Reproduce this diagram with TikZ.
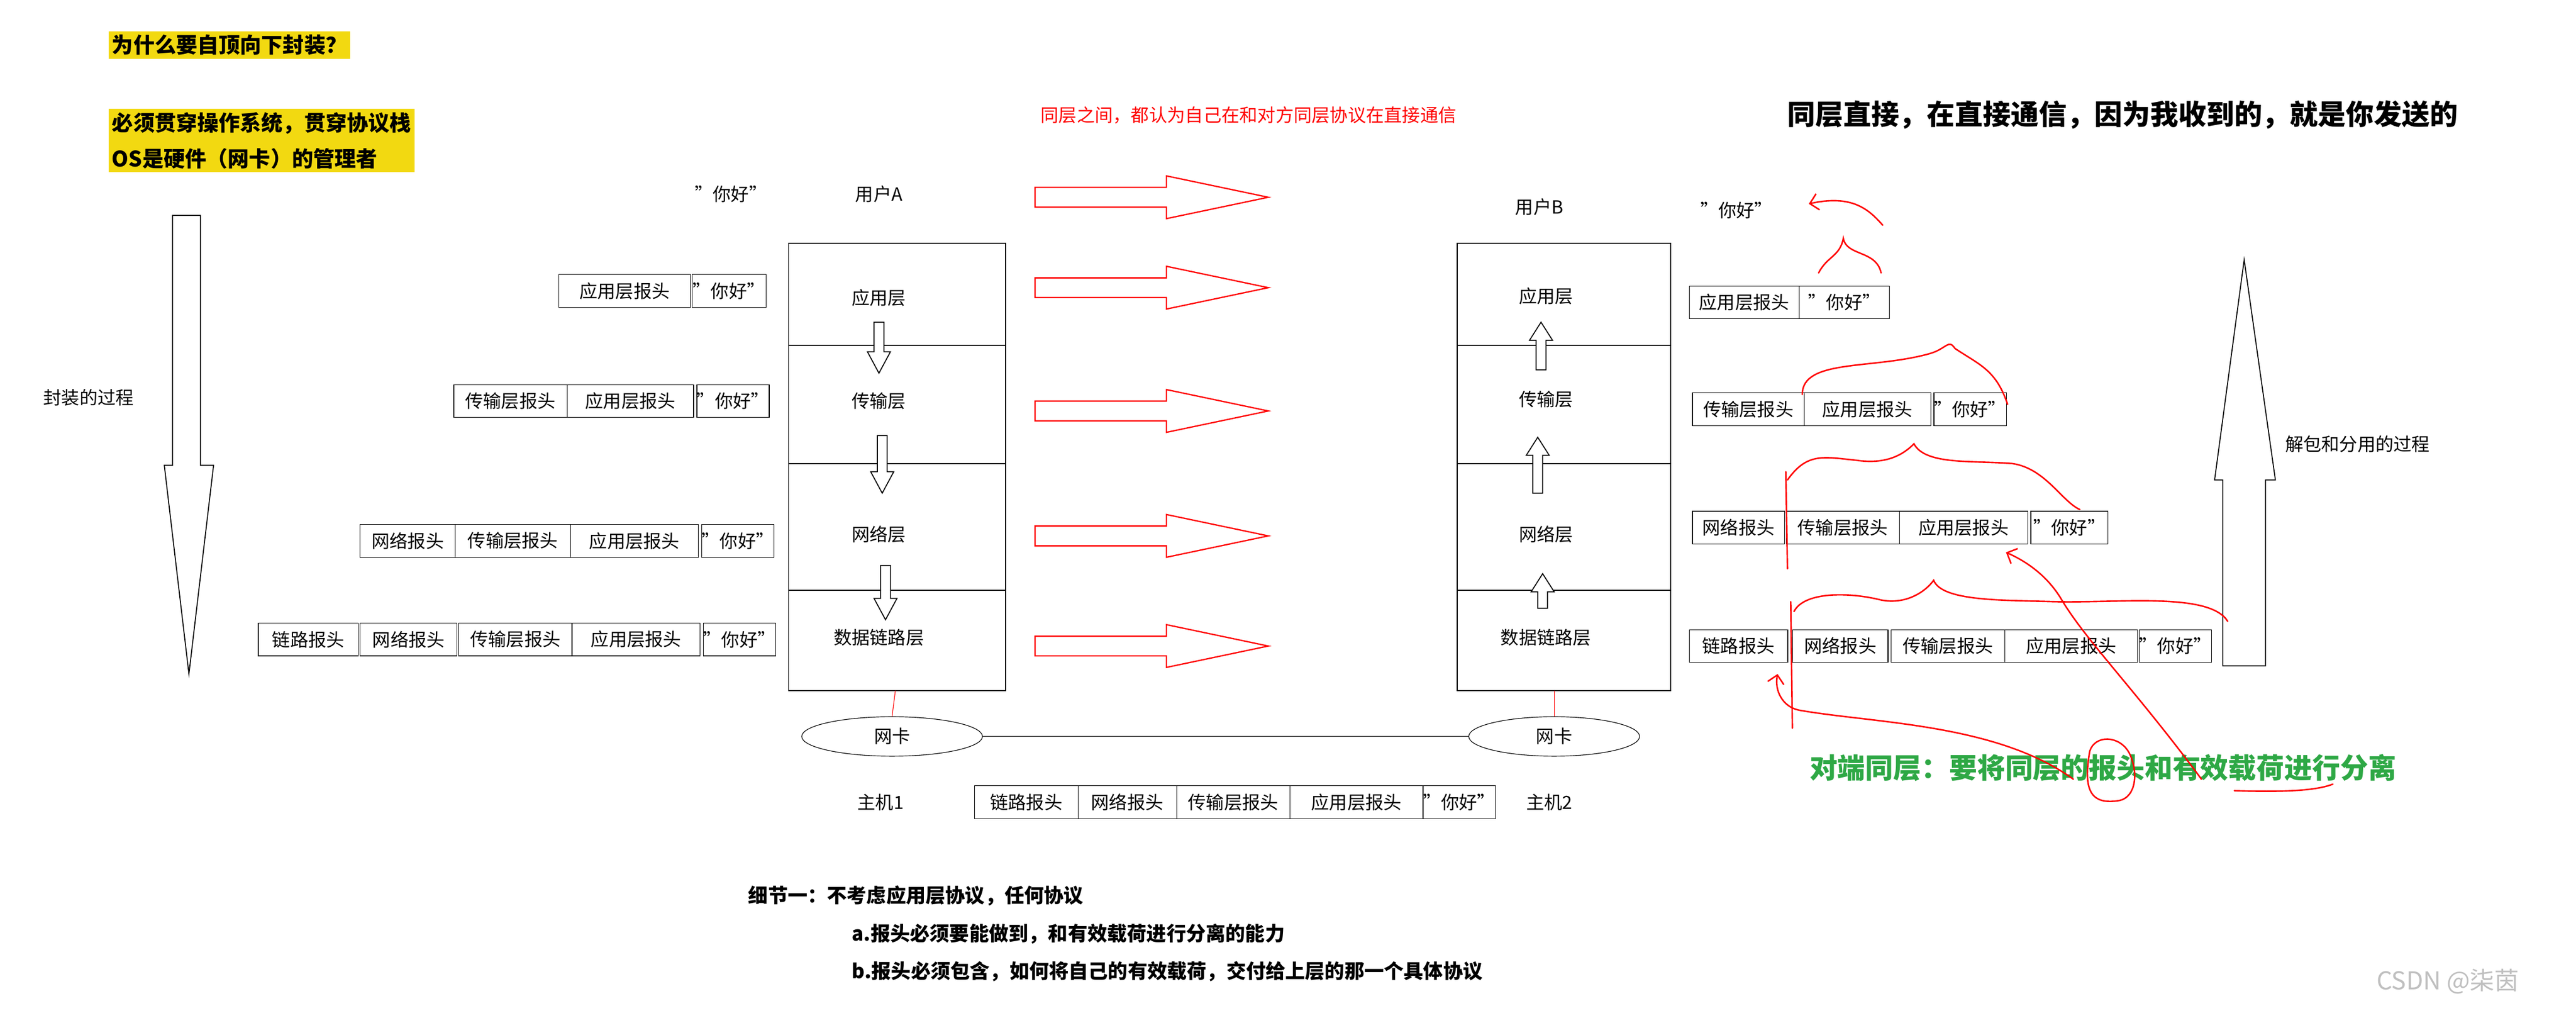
\documentclass[tikz,border=0pt]{standalone}
\usepackage{fontspec}
\setmainfont{Noto Sans CJK SC}
\usetikzlibrary{arrows.meta,shapes.geometric}
\definecolor{hl}{HTML}{F2D911}
\definecolor{gr}{HTML}{2EA845}
\tikzset{
  f/.style={font=\fontsize{11}{13}\selectfont},
  cell/.style={draw,f,minimum height=20pt,inner sep=0pt,anchor=west},
  lay/.style={f},
  rd/.style={red,line width=0.9pt,line cap=round},
  hollow/.style={draw,fill=white,line width=0.6pt},
  rhollow/.style={draw=red,line width=0.8pt},
}
\newcommand{\pk}[4]{\node[cell,minimum width=#3pt] (#1) at (#2) {#4};}
\begin{document}
\begin{tikzpicture}[x=1pt,y=-1pt]
\useasboundingbox (0,0) rectangle (1568,619);
% yellow notes
\node[fill=hl,anchor=north west,inner sep=2pt,font=\bfseries\fontsize{13}{15}\selectfont] (q) at (66,19) {为什么要自顶向下封装？};
\node[fill=hl,anchor=north west,inner sep=2pt,align=left,font=\bfseries\fontsize{13}{22}\selectfont] (n) at (66,66) {必须贯穿操作系统，贯穿协议栈\\OS是硬件（网卡）的管理者};
% big down arrow
\draw[hollow] (105,131) -- (122,131) -- (122,283) -- (130,283) -- (115,410) -- (100,283) -- (105,283) -- cycle;
\node[f] (enc) at (54,242) {封装的过程};
% top texts
\node[red,font=\fontsize{11}{13}\selectfont] (t1) at (760,70) {同层之间，都认为自己在和对方同层协议在直接通信};
\node[font=\bfseries\fontsize{17}{20}\selectfont] (t2) at (1292,70) {同层直接，在直接通信，因为我收到的，就是你发送的};
% stacks
\node[f] (ha) at (445,118) {"你好"};
\node[f] (ua) at (535,118) {用户A};
\draw[line width=0.6pt] (480,148) rectangle (612,420);
\foreach \y in {210,282,359} \draw[line width=0.6pt] (480,\y) -- (612,\y);
\node[lay] (a1) at (535,181) {应用层};
\node[lay] (a2) at (535,244) {传输层};
\node[lay] (a3) at (535,325) {网络层};
\node[lay] (a4) at (535,388) {数据链路层};
\foreach \x/\a/\b in {535/196/227,537/265/300,539/344/377}
  \draw[hollow] (\x-3,\a) -- (\x+3,\a) -- (\x+3,\b-13) -- (\x+7,\b-13) -- (\x,\b) -- (\x-7,\b-13) -- (\x-3,\b-13) -- cycle;
\node[f] (ub) at (937,126) {用户B};
\draw[line width=0.6pt] (887,148) rectangle (1017,420);
\foreach \y in {210,282,359} \draw[line width=0.6pt] (887,\y) -- (1017,\y);
\node[lay] (b1) at (941,180) {应用层};
\node[lay] (b2) at (941,243) {传输层};
\node[lay] (b3) at (941,325) {网络层};
\node[lay] (b4) at (941,388) {数据链路层};
\foreach \x/\a/\b in {938/196/225,936/266/300,939/349/370}
  \draw[hollow] (\x-3,\b) -- (\x+3,\b) -- (\x+3,\a+11) -- (\x+7,\a+11) -- (\x,\a) -- (\x-7,\a+11) -- (\x-3,\a+11) -- cycle;
% NICs
\node[draw,ellipse,minimum width=110pt,minimum height=24pt,f] (na) at (543,448) {网卡};
\node[draw,ellipse,minimum width=104pt,minimum height=24pt,f] (nb) at (946,448) {网卡};
\draw (na) -- (nb);
\draw[red] (545,420) -- (na.north);
\draw[red] (946,420) -- (nb.north);
\node[f] (h1) at (536,488) {主机1};
\node[f] (h2) at (943,488) {主机2};
% red hollow arrows
\foreach \y in {120,175,250,326,393}
  \draw[rhollow] (630,\y-6) -- (710,\y-6) -- (710,\y-13) -- (772,\y) -- (710,\y+13) -- (710,\y+6) -- (630,\y+6) -- cycle;
% left packets
\pk{l11}{340,177}{80}{应用层报头}\pk{l12}{421,177}{45}{"你好"}
\pk{l21}{276,244}{69}{传输层报头}\pk{l22}{345,244}{77}{应用层报头}\pk{l23}{424,244}{44}{"你好"}
\pk{l31}{219,329}{58}{网络报头}\pk{l32}{277,329}{70}{传输层报头}\pk{l33}{347,329}{78}{应用层报头}\pk{l34}{427,329}{43}{"你好"}
\pk{l41}{157,389}{61}{链路报头}\pk{l42}{219,389}{59}{网络报头}\pk{l43}{279,389}{69}{传输层报头}\pk{l44}{348,389}{78}{应用层报头}\pk{l45}{428,389}{44}{"你好"}
% bottom packet
\pk{m1}{593,488}{63}{链路报头}\pk{m2}{656,488}{60}{网络报头}\pk{m3}{716,488}{69}{传输层报头}\pk{m4}{785,488}{81}{应用层报头}\pk{m5}{866,488}{42}{"你好"}
% right packets
\node[f] (hb) at (1057,128) {"你好"};
\pk{r11}{1028,184}{67}{应用层报头}\pk{r12}{1095,184}{55}{"你好"}
\pk{r21}{1030,249}{68}{传输层报头}\pk{r22}{1098,249}{77}{应用层报头}\pk{r23}{1177,249}{44}{"你好"}
\pk{r31}{1030,321}{56}{网络报头}\pk{r32}{1087,321}{69}{传输层报头}\pk{r33}{1156,321}{78}{应用层报头}\pk{r34}{1236,321}{47}{"你好"}
\pk{r41}{1028,393}{60}{链路报头}\pk{r42}{1091,393}{58}{网络报头}\pk{r43}{1151,393}{69}{传输层报头}\pk{r44}{1220,393}{81}{应用层报头}\pk{r45}{1302,393}{41}{"你好"}
% big up arrow
\draw[hollow] (1353,405) -- (1379,405) -- (1379,292) -- (1385,292) -- (1366,158) -- (1348,292) -- (1353,292) -- cycle;
\node[f] (dec) at (1435,270) {解包和分用的过程};
% green note
\node[gr,font=\bfseries\fontsize{17}{20}\selectfont] (g) at (1280,467) {对端同层：要将同层的报头和有效载荷进行分离};
% red scribbles
\draw[rd,-{Straight Barb[length=5pt]}] (1146,137) .. controls (1138,128) and (1128,118) .. (1101,124);
\draw[rd] (1107,166) .. controls (1112,156) and (1120,156) .. (1122,145) .. controls (1124,156) and (1142,152) .. (1145,166);
\draw[rd] (1097,240) .. controls (1097,218) and (1140,225) .. (1175,215) .. controls (1185,212) and (1186,206) .. (1190,212) .. controls (1205,222) and (1215,225) .. (1222,246);
\draw[rd] (1088,292) .. controls (1100,275) and (1110,278) .. (1130,280) .. controls (1150,283) and (1160,275) .. (1165,270) .. controls (1172,283) and (1200,280) .. (1225,282) .. controls (1245,285) and (1255,305) .. (1266,310);
\draw[rd] (1087,287) -- (1088,346);
\draw[rd] (1092,372) .. controls (1098,360) and (1125,360) .. (1145,365) .. controls (1160,368) and (1172,360) .. (1177,353) .. controls (1182,366) and (1220,365) .. (1250,366) .. controls (1290,367) and (1345,360) .. (1356,378);
\draw[rd] (1090,366) -- (1091,443);
\draw[rd,-{Straight Barb[length=5pt]}] (1262,474) .. controls (1215,440) and (1140,440) .. (1095,432) .. controls (1085,430) and (1080,420) .. (1082,410);
\draw[rd,-{Straight Barb[length=5pt]}] (1340,474) .. controls (1300,420) and (1270,390) .. (1255,365) .. controls (1245,348) and (1230,340) .. (1221,336);
\draw[rd] (1272,457) .. controls (1268,480) and (1272,490) .. (1290,487) .. controls (1300,485) and (1302,470) .. (1296,458) .. controls (1290,447) and (1275,447) .. (1272,457);
\draw[rd] (1360,481) .. controls (1390,482) and (1410,481) .. (1420,477);
% bottom notes
\node[anchor=west,font=\bfseries\fontsize{12}{14}\selectfont] (d1) at (452,545) {细节一：不考虑应用层协议，任何协议};
\node[anchor=west,font=\bfseries\fontsize{12}{14}\selectfont] (d2) at (515,568) {a.报头必须要能做到，和有效载荷进行分离的能力};
\node[anchor=west,font=\bfseries\fontsize{12}{14}\selectfont] (d3) at (515,591) {b.报头必须包含，如何将自己的有效载荷，交付给上层的那一个具体协议};
\node[gray!50,font=\fontsize{15}{17}\selectfont] (wm) at (1490,597) {CSDN @柒茵};
\end{tikzpicture}
\end{document}
